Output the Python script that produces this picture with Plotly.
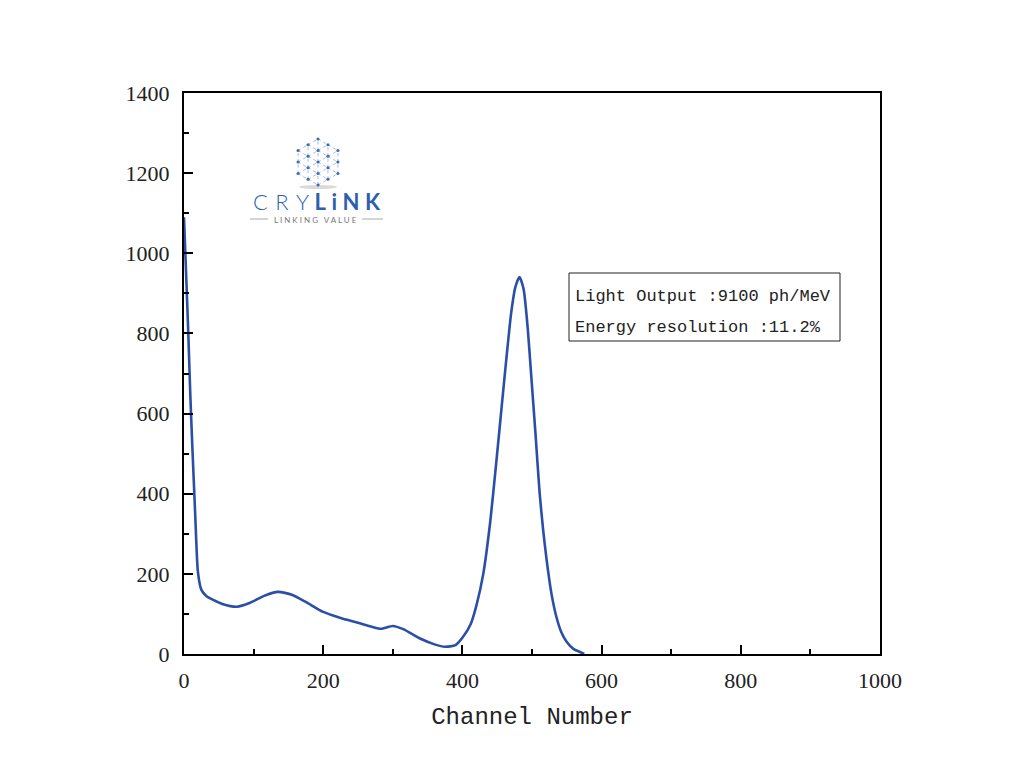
import math
import plotly.graph_objects as go

# ---- data ----
channel = [0, 3, 6, 9, 12, 16, 20, 25, 32, 42, 55, 76, 95, 115, 135, 155, 175, 200,
           225, 250, 270, 283, 300, 315, 340, 360, 375, 390, 401, 412, 420, 430, 440,
           449, 456, 463, 470, 476, 482, 488, 494, 499, 505, 511, 516, 521, 528, 535,
           542, 550, 560, 569, 575]
counts = [1090, 950, 808, 650, 517, 352, 205, 160, 145, 135, 125, 118, 128, 145, 155,
          148, 130, 105, 90, 78, 68, 63, 70, 62, 38, 24, 18, 22, 43, 75, 120, 200, 330,
          484, 610, 734, 850, 915, 941, 910, 810, 692, 550, 401, 310, 235, 150, 93, 55,
          30, 12, 5, 0]
x_ticks = [0, 200, 400, 600, 800, 1000]
y_ticks = [0, 200, 400, 600, 800, 1000, 1200, 1400]
info_lines = ["Light Output :9100 ph/MeV", "Energy resolution :11.2%"]
x_title = "Channel Number"

# ---- layout geometry (page pixels; page body has an 8px offset) ----
OFF = 8
W, H = 1024 - OFF, 784 - OFF
L, R, T, B = 184, 880, 93, 654

fig = go.Figure()
fig.add_trace(go.Scatter(
    x=channel, y=counts, mode="lines",
    line=dict(color="#2b4fa6", width=2.6, shape="spline", smoothing=0.6),
    showlegend=False, hoverinfo="x+y"))

# ---- logo drawn on a hidden pixel-space overlay axis ----
cx, cy, rad = 318, 162, 23
step = rad / 2
pts = []
for a in range(-2, 3):
    for b in range(-2, 3):
        c = -a - b
        if max(abs(a), abs(b), abs(c)) <= 2:
            px = cx + step * (a * math.cos(math.radians(30)))
            py = cy - step * (a * math.sin(math.radians(30)) + b)
            pts.append((px, py))
lx, ly = [], []
for i in range(len(pts)):
    for j in range(i + 1, len(pts)):
        d = math.hypot(pts[i][0] - pts[j][0], pts[i][1] - pts[j][1])
        if abs(d - step) < 0.5:
            lx += [pts[i][0], pts[j][0], None]
            ly += [pts[i][1], pts[j][1], None]
fig.add_trace(go.Scatter(x=lx, y=ly, mode="lines", xaxis="x2", yaxis="y2",
                         line=dict(color="#9db6e0", width=0.9, dash="dot"),
                         showlegend=False, hoverinfo="skip"))
fig.add_trace(go.Scatter(x=[p[0] for p in pts], y=[p[1] for p in pts], mode="markers",
                         xaxis="x2", yaxis="y2",
                         marker=dict(color="#3d6bb8", size=3.2),
                         showlegend=False, hoverinfo="skip"))

fig.add_shape(type="circle", xref="x2", yref="y2", x0=299, x1=337, y0=185, y1=189,
              fillcolor="rgba(150,150,150,0.35)", line=dict(width=0), layer="below")

SP1 = "\u2004"
SP2 = "\u2005"
annotations = [
    dict(x=317, y=201, xref="x2", yref="y2", showarrow=False,
         text="<span style='font-weight:300'>" + SP1.join("CRY") + "</span>" + SP2
              + "<b>" + SP2.join("LiNK") + "</b>",
         font=dict(family="Lato", size=22, color="#2d5fae")),
    dict(x=315, y=219.5, xref="x2", yref="y2", showarrow=False,
         text="L I N K I N G   V A L U E",
         font=dict(family="Lato", size=8, color="#777777")),
]
shapes = [
    dict(type="line", xref="x2", yref="y2", x0=250, x1=268, y0=219, y1=219,
         line=dict(color="#aaaaaa", width=1)),
    dict(type="line", xref="x2", yref="y2", x0=362, x1=383, y0=219, y1=219,
         line=dict(color="#aaaaaa", width=1)),
    dict(type="rect", xref="x2", yref="y2", x0=569, x1=840, y0=273, y1=341,
         line=dict(color="#222222", width=1), fillcolor="white"),
]
for k, txt in enumerate(info_lines):
    annotations.append(dict(x=573, y=296 + 31 * k, xref="x2", yref="y2",
                            xanchor="left", yanchor="middle", showarrow=False,
                            text=txt,
                            font=dict(family="Liberation Mono", size=17, color="#222222")))
for s in shapes:
    fig.add_shape(**s)

axis_common = dict(showline=True, linecolor="black", linewidth=2.2, mirror=True,
                   ticks="inside", ticklen=9, tickwidth=1.8, tickcolor="black",
                   showgrid=False, zeroline=False,
                   tickfont=dict(family="Liberation Serif", size=22, color="#222222"))

fig.update_layout(
    width=W, height=H,
    margin=dict(l=L - OFF, r=(W + OFF) - R, t=T - OFF, b=(H + OFF) - B),
    paper_bgcolor="white", plot_bgcolor="white",
    xaxis=dict(range=[0, 1000], tickvals=x_ticks,
               minor=dict(ticks="inside", ticklen=5, tickwidth=1.5, tickcolor="black", dtick=100),
               title=dict(text=x_title, standoff=16,
                          font=dict(family="Liberation Mono", size=24, color="#222222")),
               ticklabelstandoff=5, **axis_common),
    yaxis=dict(range=[0, 1400], tickvals=y_ticks,
               minor=dict(ticks="inside", ticklen=5, tickwidth=1.5, tickcolor="black", dtick=100),
               ticklabelstandoff=8, **axis_common),
    xaxis2=dict(range=[L, R], overlaying="x", visible=False, fixedrange=True),
    yaxis2=dict(range=[B, T], overlaying="y", visible=False, fixedrange=True),
    annotations=annotations,
    showlegend=False,
)

fig.write_html("out.html")
